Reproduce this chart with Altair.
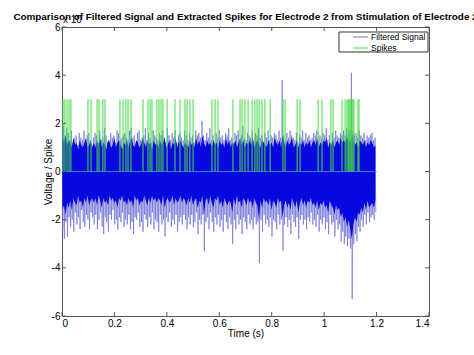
import altair as alt
import pandas as pd

# ---- data ----
STEP = 0.006  # seconds per envelope bin
# extreme excursions of the filtered signal (light fringe)
sig_hi = [
    1.7, 1.9, 1.5, 1.8, 1.6, 1.3, 1.7, 1.2, 1.4, 1.5, 1.1, 1.6, 1.4, 1.3, 1.7, 1.2, 1.5, 1.6, 1.3, 1.1,
    1.4, 1.6, 1.5, 1.2, 1.7, 1.3, 1.4, 1.8, 1.5, 1.2, 1.3, 1.6, 1.4, 1.5, 1.2, 1.7, 1.6, 1.3, 1.4, 1.5,
    1.6, 1.4, 1.3, 1.7, 1.8, 1.4, 1.5, 1.2, 1.6, 1.7, 1.3, 1.4, 1.5, 1.8, 1.3, 1.6, 1.4, 1.2, 1.7, 1.5,
    1.4, 1.3, 1.6, 1.5, 1.7, 1.4, 1.2, 1.8, 1.5, 1.3, 1.6, 1.4, 1.7, 1.2, 1.5, 1.6, 1.4, 1.3, 1.7, 1.5,
    1.3, 1.6, 1.4, 1.5, 1.2, 1.7, 1.5, 1.6, 1.4, 2.1, 1.5, 1.3, 1.6, 1.4, 1.8, 1.3, 1.5, 1.2, 1.6, 1.4,
    1.7, 1.4, 1.5, 1.3, 1.6, 1.5, 1.8, 1.3, 1.4, 1.2, 1.6, 1.5, 1.7, 1.3, 1.5, 1.9, 1.4, 1.3, 1.6, 1.5,
    1.4, 1.7, 1.3, 1.6, 1.5, 1.8, 1.4, 1.5, 1.2, 1.6, 1.4, 1.7, 1.3, 1.5, 1.4, 1.6, 1.5, 1.3, 1.7, 1.4,
    3.8, 1.5, 1.3, 1.6, 1.4, 1.7, 1.5, 1.4, 1.3, 1.6, 1.2, 1.5, 1.4, 1.7, 1.3, 1.6, 1.4, 1.5, 1.3, 1.4,
    1.6, 1.5, 1.7, 1.3, 1.5, 1.4, 1.6, 1.5, 1.8, 1.3, 1.5, 1.2, 1.6, 1.4, 1.7, 1.5, 1.4, 1.6, 1.5, 1.7,
    1.5, 1.8, 1.6, 1.7, 4.1, 1.7, 1.5, 1.6, 1.4, 1.7, 1.5, 1.4, 1.6, 1.3, 1.5, 1.4, 1.5, 1.6, 1.3, 1.4,
]
sig_lo = [
    -2.4, -2.8, -2.1, -2.7, -1.9, -2.3, -2.0, -2.5, -1.7, -2.2, -1.9, -2.4, -1.6, -2.1, -2.3, -1.8, -2.0, -2.4, -1.7, -1.9,
    -2.2, -1.8, -2.4, -2.0, -1.7, -2.3, -2.6, -1.9, -2.1, -2.5, -1.8, -2.0, -1.6, -2.2, -2.0, -2.4, -1.9, -2.1, -1.7, -2.3,
    -2.0, -2.2, -1.8, -2.4, -2.1, -2.6, -1.9, -2.0, -1.7, -2.3, -2.1, -2.5, -1.8, -2.0, -2.3, -1.9, -2.2, -1.7, -2.4, -2.0,
    -2.1, -2.5, -1.8, -2.2, -2.0, -2.7, -1.9, -2.1, -1.7, -2.3, -2.0, -2.2, -1.8, -2.5, -2.1, -1.9, -2.2, -1.8, -2.0, -2.4,
    -1.9, -2.2, -1.8, -2.3, -2.1, -1.7, -2.6, -2.0, -2.2, -1.8, -3.3, -2.1, -1.9, -2.4, -1.7, -2.1, -2.5, -1.9, -2.2, -1.8,
    -2.3, -2.0, -2.5, -1.8, -2.1, -2.4, -1.9, -2.2, -3.0, -2.0, -2.4, -1.8, -2.2, -2.0, -2.6, -1.9, -2.1, -2.4, -1.8, -2.2,
    -2.0, -2.4, -1.9, -2.2, -2.1, -3.8, -2.0, -2.5, -1.8, -2.2, -2.0, -2.3, -1.9, -2.7, -2.0, -2.1, -2.4, -1.8, -2.2, -2.0,
    -3.3, -2.2, -1.9, -2.3, -2.0, -2.6, -1.8, -2.1, -2.3, -1.9, -2.8, -2.0, -1.8, -2.2, -2.0, -2.4, -1.9, -2.1, -1.7, -2.2,
    -2.0, -2.3, -1.8, -2.5, -2.0, -2.2, -1.9, -2.4, -2.1, -2.6, -1.8, -2.2, -2.1, -2.7, -2.0, -2.4, -2.2, -2.9, -2.5, -3.0,
    -2.7, -3.1, -2.8, -3.2, -5.3, -3.0, -2.6, -2.9, -2.3, -2.5, -2.0, -2.3, -1.8, -2.2, -1.7, -2.1, -1.9, -1.8, -2.0, -1.7,
]
# dense (dark) part of the signal band
core_hi = [
    1.4, 1.2, 1.5, 1.1, 1.3, 1.2, 1.0, 1.4, 1.1, 1.2, 0.9, 1.3, 1.1, 1.0, 1.2, 1.4, 1.0, 1.1, 1.3, 1.0,
    1.2, 1.0, 1.3, 1.1, 1.4, 1.0, 1.2, 1.1, 0.9, 1.3, 1.2, 1.0, 1.1, 1.4, 1.0, 1.2, 1.3, 1.1, 0.9, 1.2,
    1.1, 1.3, 1.0, 1.2, 1.4, 1.1, 1.0, 1.3, 1.2, 1.0, 1.1, 1.4, 1.2, 1.0, 1.3, 1.1, 1.2, 0.9, 1.3, 1.1,
    1.2, 1.0, 1.3, 1.1, 1.2, 1.4, 1.0, 1.1, 1.3, 0.9, 1.2, 1.1, 1.4, 1.0, 1.2, 1.3, 1.1, 1.0, 1.2, 1.1,
    1.0, 1.3, 1.1, 1.2, 1.0, 1.4, 1.1, 1.3, 1.0, 1.5, 1.2, 1.0, 1.3, 1.1, 1.2, 1.0, 1.3, 1.1, 1.2, 1.0,
    1.3, 1.1, 1.2, 1.0, 1.4, 1.1, 1.3, 1.0, 1.2, 1.1, 1.3, 1.0, 1.2, 1.4, 1.1, 1.3, 1.0, 1.2, 1.1, 1.3,
    1.1, 1.4, 1.0, 1.2, 1.3, 1.1, 1.0, 1.3, 1.2, 1.1, 1.0, 1.3, 1.1, 1.2, 1.0, 1.4, 1.2, 1.1, 1.3, 1.0,
    1.5, 1.2, 1.0, 1.3, 1.1, 1.2, 1.4, 1.0, 1.1, 1.3, 1.0, 1.2, 1.1, 1.3, 1.0, 1.2, 1.1, 1.3, 1.0, 1.2,
    1.3, 1.1, 1.4, 1.0, 1.2, 1.1, 1.3, 1.2, 1.4, 1.0, 1.2, 1.1, 1.3, 1.0, 1.2, 1.3, 1.1, 1.4, 1.2, 1.3,
    1.2, 1.4, 1.3, 1.2, 1.6, 1.3, 1.1, 1.2, 1.0, 1.3, 1.2, 1.1, 1.3, 1.0, 1.2, 1.1, 1.3, 1.2, 1.0, 1.1,
]
core_lo = [
    -1.6, -1.4, -1.8, -1.3, -1.5, -1.2, -1.6, -1.1, -1.3, -1.4, -1.0, -1.3, -1.2, -1.5, -1.1, -1.3, -1.0, -1.4, -1.2, -1.1,
    -1.3, -1.1, -1.4, -1.0, -1.2, -1.5, -1.1, -1.3, -1.2, -1.4, -1.0, -1.2, -1.1, -1.3, -1.2, -1.5, -1.1, -1.2, -1.0, -1.3,
    -1.2, -1.4, -1.1, -1.3, -1.2, -1.5, -1.0, -1.2, -1.1, -1.4, -1.2, -1.3, -1.0, -1.2, -1.4, -1.1, -1.3, -1.0, -1.2, -1.1,
    -1.3, -1.1, -1.2, -1.4, -1.0, -1.5, -1.2, -1.1, -1.3, -1.2, -1.0, -1.4, -1.1, -1.3, -1.2, -1.0, -1.3, -1.1, -1.2, -1.4,
    -1.1, -1.3, -1.0, -1.4, -1.2, -1.1, -1.5, -1.2, -1.3, -1.0, -1.8, -1.2, -1.1, -1.4, -1.0, -1.3, -1.5, -1.1, -1.2, -1.0,
    -1.4, -1.2, -1.5, -1.1, -1.3, -1.4, -1.2, -1.3, -1.7, -1.1, -1.4, -1.0, -1.3, -1.2, -1.5, -1.1, -1.2, -1.4, -1.1, -1.3,
    -1.2, -1.5, -1.1, -1.3, -1.4, -2.0, -1.2, -1.5, -1.1, -1.3, -1.2, -1.4, -1.1, -1.6, -1.2, -1.3, -1.5, -1.1, -1.3, -1.2,
    -1.9, -1.4, -1.2, -1.5, -1.3, -1.6, -1.1, -1.3, -1.5, -1.2, -1.7, -1.3, -1.1, -1.4, -1.2, -1.5, -1.2, -1.3, -1.1, -1.4,
    -1.3, -1.5, -1.2, -1.6, -1.3, -1.4, -1.2, -1.5, -1.4, -1.7, -1.2, -1.4, -1.5, -1.8, -1.4, -1.6, -1.5, -1.9, -1.7, -2.1,
    -1.9, -2.3, -2.0, -2.4, -2.8, -2.2, -1.9, -2.1, -1.7, -1.8, -1.5, -1.7, -1.3, -1.6, -1.2, -1.5, -1.4, -1.3, -1.5, -1.2,
]
spike_times = [0.004, 0.011, 0.019, 0.027, 0.034, 0.099, 0.111, 0.134, 0.141, 0.156, 0.164, 0.221, 0.233, 0.244,
               0.252, 0.263, 0.309, 0.328, 0.336, 0.343, 0.362, 0.370, 0.378, 0.385, 0.401, 0.431, 0.450, 0.469,
               0.477, 0.488, 0.500, 0.572, 0.584, 0.595, 0.652, 0.679, 0.687, 0.698, 0.710, 0.725, 0.736, 0.744,
               0.752, 0.763, 0.774, 0.794, 0.843, 0.851, 0.897, 0.908, 0.977, 0.992, 1.026, 1.034, 1.068, 1.080,
               1.087, 1.092, 1.095, 1.099, 1.103, 1.106, 1.110, 1.114, 1.129, 1.133]
SPIKE_HEIGHT = 3
SIGNAL_END = 1.2
x_ticks = [0, 0.2, 0.4, 0.6, 0.8, 1, 1.2, 1.4]
y_ticks = [-6, -4, -2, 0, 2, 4, 6]
series_names = ["Filtered Signal", "Spikes"]
series_colors = ["#7070d8", "#44dd44"]
TITLE = "Comparison of Filtered Signal and Extracted Spikes for Electrode 2 from Stimulation of Electrode 2"
EXP_LABEL = "x 10"

# ---- tables ----
sig_rows = []
for i, (h, l) in enumerate(zip(sig_hi, sig_lo)):
    t = i * STEP
    sig_rows.append({"t": t, "v": h, "k": 2 * i})
    sig_rows.append({"t": t + STEP / 2, "v": l, "k": 2 * i + 1})
sig_df = pd.DataFrame(sig_rows)
core_df = pd.DataFrame({"t": [i * STEP + STEP / 4 for i in range(len(core_hi))], "hi": core_hi, "lo": core_lo})
spk_df = pd.DataFrame({"t": spike_times, "top": [SPIKE_HEIGHT] * len(spike_times), "base": [0] * len(spike_times)})
zero_df = pd.DataFrame({"t": [0], "t2": [SIGNAL_END], "v": [0]})
xt_df = pd.DataFrame({"x": x_ticks})
yt_df = pd.DataFrame({"y": y_ticks})

W, H = 367, 289
FONT = "Liberation Sans"
xscale = alt.Scale(domain=[0, 1.4], nice=False, zero=False)
yscale = alt.Scale(domain=[-6, 6], nice=False, zero=False)
xaxis = alt.Axis(values=x_ticks, labelExpr="datum.value + ''", title="Time (s)")
yaxis = alt.Axis(values=y_ticks, labelExpr="datum.value + ''", title="Voltage / Spike")


def X(f):
    return alt.X(f, type="quantitative", scale=xscale, axis=xaxis, title="Time (s)")


def Y(f):
    return alt.Y(f, type="quantitative", scale=yscale, axis=yaxis, title="Voltage / Spike")


fringe = alt.Chart(sig_df).mark_line(strokeWidth=0.7, color=series_colors[0], clip=True).encode(
    x=X("t"), y=Y("v"), order="k:Q")
core = alt.Chart(core_df).mark_area(color="#0808e0", opacity=1).encode(
    x=X("t"), y=Y("hi"), y2="lo")
zero = alt.Chart(zero_df).mark_rule(color="#2f7fc8", strokeWidth=1).encode(
    x=X("t"), x2="t2", y=Y("v"))
spikes = alt.Chart(spk_df).mark_rule(strokeWidth=1.2, opacity=0.85, color=series_colors[1]).encode(
    x=X("t"), y=Y("base"), y2="top")

tick_len = 4
xt_bot = alt.Chart(xt_df).mark_rule(color="#555").encode(x=X("x"), y=alt.value(H), y2=alt.value(H - tick_len))
xt_top = alt.Chart(xt_df).mark_rule(color="#555").encode(x=X("x"), y=alt.value(0), y2=alt.value(tick_len))
yt_l = alt.Chart(yt_df).mark_rule(color="#555").encode(y=Y("y"), x=alt.value(0), x2=alt.value(tick_len))
yt_r = alt.Chart(yt_df).mark_rule(color="#555").encode(y=Y("y"), x=alt.value(W), x2=alt.value(W - tick_len))

exp_lbl = alt.Chart(pd.DataFrame({"s": [EXP_LABEL]})).mark_text(
    align="left", baseline="alphabetic", font=FONT, fontSize=10, color="black").encode(
    text="s:N", x=alt.value(1), y=alt.value(-4))
title_lbl = alt.Chart(pd.DataFrame({"s": [TITLE]})).mark_text(
    align="center", baseline="alphabetic", font=FONT, fontSize=9.9, fontWeight="bold", color="black").encode(
    text="s:N", x=alt.value(W / 2), y=alt.value(-7))

# ---- legend box (MATLAB style) ----
LEG_X0, LEG_X1, LEG_Y0, LEG_Y1 = 277, 366, 5, 25
legend_layers = [
    alt.Chart(pd.DataFrame({"a": [0]})).mark_rect(fill="white", stroke="#333", strokeWidth=1).encode(
        x=alt.value(LEG_X0), x2=alt.value(LEG_X1), y=alt.value(LEG_Y0), y2=alt.value(LEG_Y1))
]
for j, (name, col) in enumerate(zip(series_names, series_colors)):
    ry = LEG_Y0 + 5 + 11 * j
    legend_layers.append(
        alt.Chart(pd.DataFrame({"a": [0]})).mark_rule(color=col, strokeWidth=1).encode(
            x=alt.value(LEG_X0 + 14), x2=alt.value(LEG_X0 + 29), y=alt.value(ry)))
    legend_layers.append(
        alt.Chart(pd.DataFrame({"s": [name]})).mark_text(
            align="left", baseline="middle", font=FONT, fontSize=8.5, color="black").encode(
            text="s:N", x=alt.value(LEG_X0 + 32), y=alt.value(ry)))

chart = alt.layer(fringe, core, zero, spikes, xt_bot, xt_top, yt_l, yt_r, exp_lbl, title_lbl,
                  *legend_layers).properties(
    width=W, height=H,
    padding={"left": 62, "top": 27, "right": 45, "bottom": 39},
    autosize=alt.AutoSizeParams(type="none"),
).configure_view(stroke="#555", strokeWidth=1).configure_axis(
    grid=False, domain=False, ticks=False, labelFont=FONT, labelFontSize=10, labelColor="black",
    labelPadding=2, titleFont=FONT, titleFontSize=10, titleFontWeight="normal", titleColor="black",
).configure_axisX(titlePadding=0).configure_axisY(titlePadding=-2)

chart.save("out.html", embed_options={"renderer": "svg", "actions": False})
